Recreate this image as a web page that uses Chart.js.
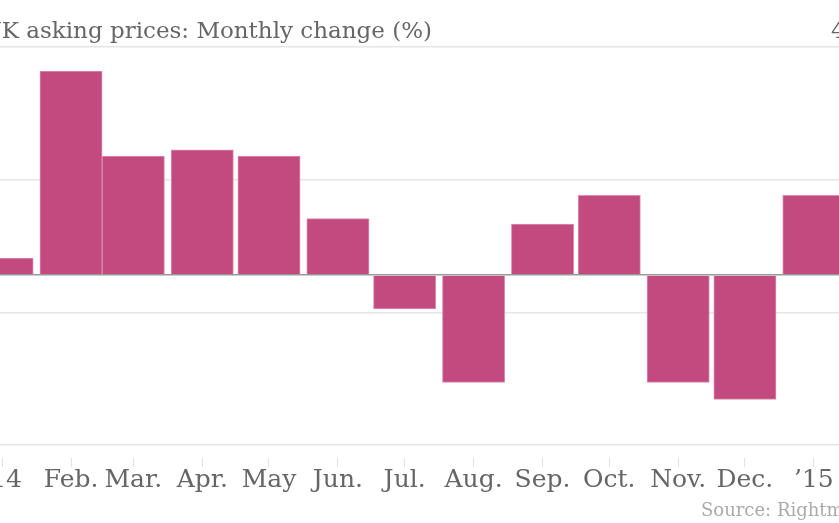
<!DOCTYPE html>
<html>
<head>
<meta charset="utf-8">
<script src="https://cdn.jsdelivr.net/npm/chart.js@4.4.0/dist/chart.umd.min.js"></script>
<style>
  html, body { margin: 0; padding: 0; background: #fff; }
  body { width: 839px; height: 523px; overflow: hidden; position: relative; }
  #wrap { position: absolute; left: -30px; top: 0; width: 876px; height: 523px; }
  .txt { position: absolute; white-space: nowrap; font-family: "DejaVu Serif", serif; color: #666; }
  #title { right: 407px; top: 17px; font-size: 23px; }
  #unit { left: 831px; top: 17px; font-size: 23px; }
  #source { left: 701px; top: 499px; font-size: 18px; color: #aaa; }
</style>
</head>
<body>
<div id="wrap"><canvas id="chart"></canvas></div>
<div class="txt" id="title">UK asking prices: Monthly change (%)</div>
<div class="txt" id="unit">4%</div>
<div class="txt" id="source">Source: Rightmove</div>
<script>
// Luni (data) si etichete
const dates = ['2014-01-01', '2014-02-01', '2014-03-01', '2014-04-01', '2014-05-01', '2014-06-01', '2014-07-01',
  '2014-08-01', '2014-09-01', '2014-10-01', '2014-11-01', '2014-12-01', '2015-01-01'];
const monthLabels = ['\u201914', 'Feb.', 'Mar.', 'Apr.', 'May', 'Jun.', 'Jul.', 'Aug.', 'Sep.', 'Oct.', 'Nov.', 'Dec.', '\u201915'];
// Variatie lunara (%)
const changes = [0.25, 3.0, 1.75, 1.84, 1.75, 0.83, -0.5, -1.58, 0.75, 1.17, -1.58, -1.83, 1.17];
// Liniile de grila
const gridTicks = [-2, 0, 2, 4];

// Zile de la 1 ian 2014 (axa x liniara, fara adapter de date)
const start = Date.UTC(2014, 0, 1);
const days = dates.map(d => Math.round((Date.parse(d) - start) / 86400000));
const points = days.map((d, i) => ({ x: d, y: changes[i] }));

const fontFamily = '"DejaVu Serif", serif';

new Chart(document.getElementById('chart'), {
  type: 'bar',
  data: {
    datasets: [{
      data: points,
      backgroundColor: '#c24a7e',
      borderColor: '#dc8fb0',
      borderWidth: 1,
      barPercentage: 1.0,
      categoryPercentage: 1.0,
      yAxisID: 'y'
    }]
  },
  options: {
    responsive: true,
    maintainAspectRatio: false,
    animation: false,
    layout: { padding: { top: 47, bottom: 29, left: 0, right: 0 } },
    plugins: { legend: { display: false }, tooltip: { enabled: false } },
    scales: {
      x: {
        type: 'linear',
        offset: false,
        min: -14.43,
        max: 379.45,
        afterBuildTicks: axis => { axis.ticks = days.map(v => ({ value: v })); },
        grid: { offset: false, drawOnChartArea: false, drawTicks: true, tickLength: 9, color: '#e2e2e2' },
        border: { display: false },
        ticks: {
          color: '#666',
          padding: 1,
          maxRotation: 0,
          autoSkip: false,
          font: { family: fontFamily, size: 25, lineHeight: 1.0 },
          callback: (v, i) => monthLabels[i]
        }
      },
      g: {
        position: 'right',
        min: -2.196,
        max: 4,
        afterBuildTicks: axis => { axis.ticks = gridTicks.map(v => ({ value: v })); },
        grid: { color: '#e6e6e6', lineWidth: 1.5, drawTicks: false },
        border: { display: false },
        ticks: { display: false }
      },
      y: {
        position: 'left',
        min: -2.691,
        max: 3.353,
        afterBuildTicks: axis => { axis.ticks = [{ value: 0 }]; },
        grid: { color: '#9a9a9a', lineWidth: 1.5, drawTicks: false, z: 1 },
        border: { display: false },
        ticks: { display: false }
      }
    }
  }
});
</script>
</body>
</html>
